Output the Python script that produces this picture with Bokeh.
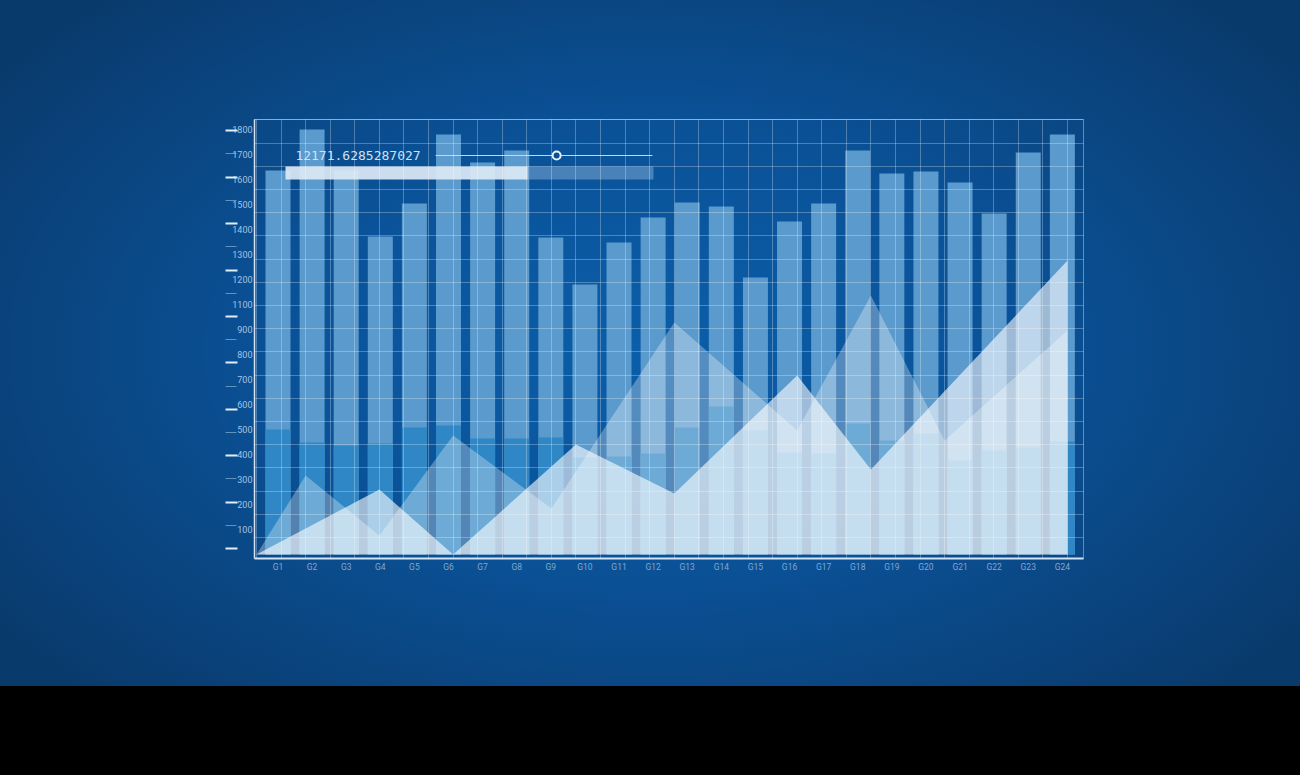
from bokeh.plotting import figure
from bokeh.models import Range1d, LinearAxis, FixedTicker, Grid, Label
from bokeh.embed import file_html
from bokeh.resources import INLINE

# ---------------- data ----------------
groups = [f"G{i}" for i in range(1, 25)]
bar_total = [1536, 1700, 1536, 1272, 1404, 1680, 1568, 1616, 1268, 1080, 1248, 1348,
             1408, 1392, 1108, 1332, 1404, 1616, 1524, 1532, 1488, 1364, 1608, 1680]
bar_lower = [500, 448, 436, 444, 508, 516, 464, 464, 468, 388, 392, 404,
             508, 592, 496, 408, 404, 524, 456, 484, 376, 416, 428, 452]

# two area series on a 0..33 step axis
area_a_x = [0, 2, 5, 8, 12, 17, 22, 25, 28, 33]
area_a_y = [0, 316, 76, 476, 184, 928, 496, 1036, 456, 896]
area_b_x = [0, 5, 8, 13, 17, 22, 25, 33]
area_b_y = [0, 260, 0, 440, 244, 716, 340, 1176]

y_tick_values = [100, 200, 300, 400, 500, 600, 700, 800, 900,
                 1000, 1100, 1200, 1300, 1400, 1500, 1600, 1700]
y_tick_labels = ["100", "200", "300", "400", "500", "600", "700", "800", "900",
                 "1100", "1200", "1300", "1400", "1500", "1600", "1700", "1800"]

readout_text = "12171.6285287027"

# ---------------- figure ----------------
W, H = 1300, 775
p = figure(width=W, height=H, output_backend="svg", toolbar_location=None,
           x_range=Range1d(0.311, 24.62), y_range=Range1d(-16, 1740),
           min_border_left=254, min_border_right=217, min_border_top=119,
           min_border_bottom=217)
p.extra_x_ranges = {"a": Range1d(-0.081, 33.65)}
p.extra_y_ranges = {"g": Range1d(-0.905, 18.017)}

p.border_fill_alpha = 0
p.background_fill_alpha = 0
p.styles = {
    "background": (
        "linear-gradient(to bottom, rgba(0,0,0,0) 686px, #000000 686px), "
        "radial-gradient(ellipse 62% 62% at 50% 45%, #0b5ea9 0%, #0a5298 45%, "
        "#0a4580 75%, #093a6c 100%)"
    )
}
p.outline_line_color = "#cfe0f0"
p.outline_line_alpha = 0.45

p.xgrid.visible = False
p.ygrid.visible = False

# bars
xs = list(range(1, 25))
p.vbar(x=xs, top=bar_total, bottom=0, width=0.733, fill_color="#5b9acd",
       line_color=None)
p.vbar(x=xs, top=bar_lower, bottom=0, width=0.733, fill_color="#2f87c5",
       line_color=None)

# areas
p.varea(x=area_a_x, y1=0, y2=area_a_y, x_range_name="a",
        fill_color="white", fill_alpha=0.3)
p.varea(x=area_b_x, y1=0, y2=area_b_y, x_range_name="a",
        fill_color="white", fill_alpha=0.6)

# grid
vgrid = Grid(dimension=0, ticker=FixedTicker(ticks=list(range(0, 34))),
             x_range_name="a", grid_line_color="white", grid_line_alpha=0.28,
             level="overlay")
hgrid = Grid(dimension=1, ticker=FixedTicker(ticks=list(range(0, 19))),
             y_range_name="g", grid_line_color="white", grid_line_alpha=0.28,
             level="overlay")
p.add_layout(vgrid)
p.add_layout(hgrid)

# readout overlay
p.quad(left=1.22, right=8.32, bottom=1500, top=1552, fill_color="#dce9f5",
       fill_alpha=0.92, line_color=None)
p.quad(left=8.32, right=12.01, bottom=1500, top=1552, fill_color="#a7c8e8",
       fill_alpha=0.4, line_color=None)
p.line(x=[5.62, 11.98], y=[1596, 1596], line_color="#c4d8ec", line_width=1)
p.scatter(x=[9.17], y=[1596], size=8, fill_color="#0b4f94",
          line_color="#e8f0f8", line_width=2)
p.add_layout(Label(x=1.51, y=1596, text=readout_text, text_font="DejaVu Sans Mono",
                   text_font_size="13px", text_color="#cfe0f1", text_baseline="middle"))

# axes
xa = p.xaxis[0]
xa.ticker = FixedTicker(ticks=xs)
xa.major_label_overrides = {i: g for i, g in zip(xs, groups)}
xa.major_tick_line_color = None
xa.major_tick_out = 0
xa.major_tick_in = 0
xa.minor_tick_line_color = None
xa.axis_line_color = "#d2e3f3"
xa.axis_line_width = 2
xa.major_label_standoff = 3
xa.major_label_text_font = "Roboto"
xa.major_label_text_font_size = "8.5px"
xa.major_label_text_color = "#7fa7cf"

ya = p.yaxis[0]
ya.ticker = FixedTicker(ticks=y_tick_values)
ya.major_label_overrides = {v: s for v, s in zip(y_tick_values, y_tick_labels)}
ya.major_tick_line_color = None
ya.major_tick_out = 0
ya.major_tick_in = 0
ya.minor_tick_line_color = None
ya.axis_line_color = "#d2e3f3"
ya.axis_line_width = 1.5
ya.major_label_standoff = 2
ya.major_label_text_font = "Roboto"
ya.major_label_text_font_size = "9px"
ya.major_label_text_color = "#a6c3e0"

dash_major = [-0.47 + 2 * k for k in range(10)]
dash_minor = [-0.47 + 2 * k + 1 for k in range(9)]
ya2 = LinearAxis(y_range_name="g",
                 ticker=FixedTicker(ticks=dash_major, minor_ticks=dash_minor),
                 axis_line_color=None,
                 major_tick_in=8, major_tick_out=4,
                 major_tick_line_color="#e2edf8", major_tick_line_width=2,
                 minor_tick_in=7, minor_tick_out=4,
                 minor_tick_line_color="#9fc0e0", minor_tick_line_alpha=0.6,
                 minor_tick_line_width=1,
                 major_label_overrides={v: "" for v in dash_major},
                 major_label_standoff=0)
p.add_layout(ya2, "left")

open("out.html", "w").write(file_html(p, INLINE))
